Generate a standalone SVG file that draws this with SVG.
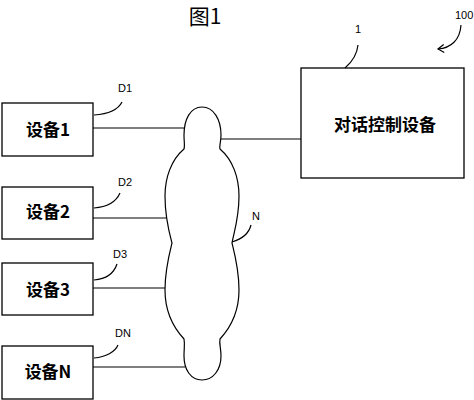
<svg xmlns="http://www.w3.org/2000/svg" width="474" height="400" viewBox="0 0 474 400">
<style>
.box{fill:#fff;stroke:#000;stroke-width:1.3}
.ln{fill:none;stroke:#000;stroke-width:1.2}
.cjk{font-family:"Noto Sans CJK SC","Liberation Serif",serif;font-weight:bold;font-size:17px;text-anchor:middle}
.lbl{font-family:"Liberation Sans",Arial,sans-serif;font-size:11px}
</style>
<defs>
<marker id="open" markerWidth="10" markerHeight="10" refX="7" refY="5" orient="auto" markerUnits="userSpaceOnUse">
<path d="M1,1 L7,5 L1,9" fill="none" stroke="#000" stroke-width="1.2"/>
</marker>
</defs>
<text x="205" y="24" font-family="Noto Sans CJK SC, Liberation Serif, serif" font-size="21" text-anchor="middle">图1</text>
<g id="ref100">
<text class="lbl" x="455" y="19">100</text>
<path class="ln" d="M461,25 C460,40 451,48 438,49" marker-end="url(#open)"/>
</g>
<g id="dialog">
<rect class="box" x="301" y="68" width="163" height="110"/>
<text class="cjk" x="385" y="131" font-size="18">对话控制设备</text>
<text class="lbl" x="355" y="33">1</text>
<path class="ln" d="M358,45 C357,55 352,62 345,68"/>
</g>
<g id="network">
<path class="ln" d="M202,107 C214,107 221,120 221,135 C221,142 219,146 220,149 C233,160 239,178 239,196 C239,218 234,232 232,243 C235,255 239,270 239,290 C239,310 232,326 220,339 C219,344 221,348 221,356 C221,370 213,380 202,380 C191,380 184,370 184,356 C184,348 185,344 184,339 C172,326 165,310 165,290 C165,270 169,255 172,243 C169,232 165,218 165,196 C165,178 171,160 184,149 C185,146 184,142 184,135 C184,120 190,107 202,107 Z" fill="#fff" stroke="#000" stroke-width="1.3"/>
<text class="lbl" x="252" y="220">N</text>
<path class="ln" d="M232,242 C242,239 249,233 251,225"/>
</g>
<g id="dev1">
<rect class="box" x="2" y="103" width="91" height="53"/>
<text class="cjk" x="48" y="136">设备1</text>
<text class="lbl" x="118" y="92">D1</text>
<path class="ln" d="M94,115 C108,114 118,110 122,102"/>
</g>
<g id="dev2">
<rect class="box" x="2" y="187" width="91" height="52"/>
<text class="cjk" x="48" y="218">设备2</text>
<text class="lbl" x="118" y="186">D2</text>
<path class="ln" d="M94,208 C108,207 116,202 120,193"/>
</g>
<g id="dev3">
<rect class="box" x="2" y="263" width="91" height="52"/>
<text class="cjk" x="48" y="296">设备3</text>
<text class="lbl" x="113" y="258">D3</text>
<path class="ln" d="M94,280 C106,279 114,273 117,264"/>
</g>
<g id="devN">
<rect class="box" x="2" y="346" width="91" height="53"/>
<text class="cjk" x="48" y="378">设备N</text>
<text class="lbl" x="115" y="337">DN</text>
<path class="ln" d="M94,358 C106,357 115,352 118,345"/>
</g>
<g id="connectors">
<line class="ln" x1="93" y1="128" x2="184" y2="128"/>
<line class="ln" x1="93" y1="218" x2="166" y2="218"/>
<line class="ln" x1="93" y1="288" x2="165" y2="288"/>
<line class="ln" x1="93" y1="367" x2="185" y2="367"/>
<line class="ln" x1="221" y1="139" x2="301" y2="139"/>
</g>
</svg>
